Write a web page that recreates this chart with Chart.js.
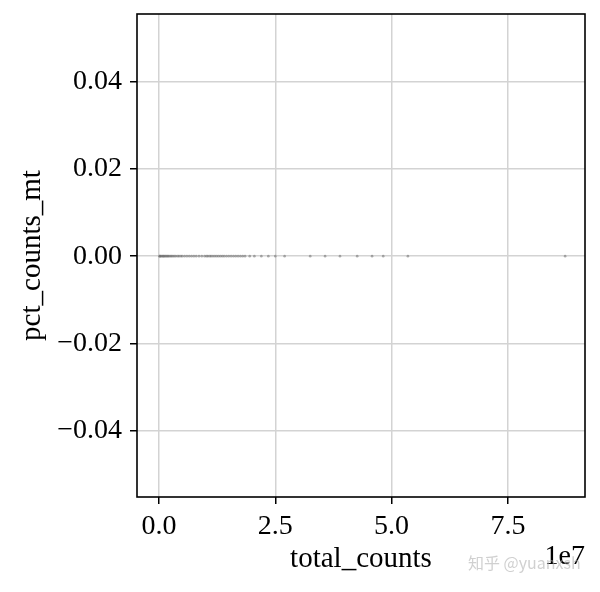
<!DOCTYPE html>
<html>
<head>
<meta charset="utf-8">
<script src="https://cdn.jsdelivr.net/npm/chart.js@4/dist/chart.umd.min.js"></script>
<style>
  html, body { margin: 0; background: #fff; }
</style>
</head>
<body>
<canvas id="myChart" width="600" height="592"></canvas>
<script>
// total_counts per cell (x) and pct_counts_mt (y)
const totalCounts = [
  1e5, 2e5, 3e5, 5e5, 7e5, 9e5, 1.0e6, 1.2e6, 1.4e6, 1.6e6,
  1.8e6, 2.0e6, 2.2e6, 2.5e6, 2.7e6, 3.0e6, 3.3e6, 3.6e6, 4.0e6, 4.3e6,
  4.7e6, 5.0e6, 5.5e6, 6.0e6, 6.5e6, 7.0e6, 7.5e6, 8.0e6, 8.6e6, 9.2e6,
  9.8e6, 1.02e7, 1.05e7, 1.09e7, 1.12e7, 1.16e7, 1.2e7, 1.24e7, 1.28e7, 1.32e7,
  1.36e7, 1.4e7, 1.45e7, 1.5e7, 1.55e7, 1.6e7, 1.65e7, 1.7e7, 1.75e7, 1.8e7,
  1.85e7, 1.95e7, 2.05e7, 2.2e7, 2.35e7, 2.5e7, 2.7e7, 3.25e7, 3.57e7, 3.89e7,
  4.26e7, 4.58e7, 4.82e7, 5.35e7, 8.73e7
];
const pctCountsMt = [
  0, 0, 0, 0, 0, 0, 0, 0, 0, 0,
  0, 0, 0, 0, 0, 0, 0, 0, 0, 0,
  0, 0, 0, 0, 0, 0, 0, 0, 0, 0,
  0, 0, 0, 0, 0, 0, 0, 0, 0, 0,
  0, 0, 0, 0, 0, 0, 0, 0, 0, 0,
  0, 0, 0, 0, 0, 0, 0, 0, 0, 0,
  0, 0, 0, 0, 0
];
const xTicks = [0, 2.5e7, 5e7, 7.5e7];
const yTicks = [-0.04, -0.02, 0, 0.02, 0.04];

const serif = "'Liberation Serif', 'DejaVu Serif', serif";

// matplotlib-style closed frame plus the offset text "1e7" and watermark
const framePlugin = {
  id: "frame",
  afterDraw(chart) {
    const { ctx, chartArea: a } = chart;
    ctx.save();
    ctx.strokeStyle = "#000";
    ctx.lineWidth = 1.6;
    ctx.strokeRect(a.left, a.top, a.right - a.left, a.bottom - a.top);

    ctx.fillStyle = "#000";
    ctx.font = "28px " + serif;
    ctx.textAlign = "right";
    ctx.textBaseline = "alphabetic";
    ctx.fillText("1e7", 585, 564);

    ctx.fillStyle = "rgba(170,170,170,0.55)";
    ctx.font = "16px 'Noto Sans CJK SC', sans-serif";
    ctx.textAlign = "left";
    ctx.fillText("知乎 @yuanxsh", 468, 569);
    ctx.restore();
  },
};

new Chart(document.getElementById("myChart"), {
  type: "scatter",
  data: {
    datasets: [
      {
        label: "cells",
        data: totalCounts.map((v, i) => ({ x: v, y: pctCountsMt[i] })),
        backgroundColor: "rgba(110,110,110,0.55)",
        borderWidth: 0,
        pointRadius: 1.3,
      },
    ],
  },
  options: {
    responsive: false,
    animation: false,
    devicePixelRatio: 1,
    layout: { padding: { top: 14, right: 15, left: 0, bottom: 0 } },
    plugins: { legend: { display: false }, tooltip: { enabled: false } },
    scales: {
      x: {
        type: "linear",
        min: -0.473e7,
        max: 9.157e7,
        afterBuildTicks: (s) => { s.ticks = xTicks.map((v) => ({ value: v })); },
        afterFit: (s) => { s.height = 95; s.paddingLeft = 0; s.paddingRight = 0; },
        ticks: {
          color: "#000",
          font: { family: serif, size: 28 },
          padding: 6,
          maxRotation: 0,
          callback: (v) => (v / 1e7).toFixed(1),
        },
        grid: {
          color: "#d3d3d3",
          lineWidth: 1.5,
          tickColor: "#000",
          tickLength: 7,
          tickWidth: 1.5,
        },
        border: { display: false },
        title: {
          display: true,
          text: "total_counts",
          color: "#000",
          font: { family: serif, size: 29 },
          padding: { top: 0, bottom: 15 },
        },
      },
      y: {
        type: "linear",
        min: -0.0552,
        max: 0.0555,
        afterBuildTicks: (s) => { s.ticks = yTicks.map((v) => ({ value: v })); },
        afterFit: (s) => { s.width = 137; s.paddingTop = 0; s.paddingBottom = 0; },
        ticks: {
          color: "#000",
          font: { family: serif, size: 28 },
          padding: 8,
          callback: (v) => (v < 0 ? "\u2212" : "") + Math.abs(v).toFixed(2),
        },
        grid: {
          color: "#d3d3d3",
          lineWidth: 1.5,
          tickColor: "#000",
          tickLength: 7,
          tickWidth: 1.5,
        },
        border: { display: false },
        title: {
          display: true,
          text: "pct_counts_mt",
          color: "#000",
          font: { family: serif, size: 29 },
          padding: { top: 15, bottom: 0 },
        },
      },
    },
  },
  plugins: [framePlugin],
});
</script>
</body>
</html>
